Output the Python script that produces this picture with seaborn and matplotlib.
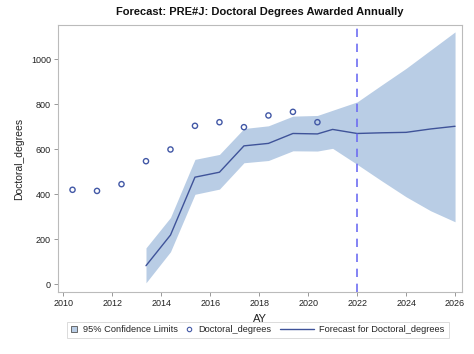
import matplotlib
matplotlib.use("Agg")
import matplotlib.pyplot as plt
import seaborn as sns
import pandas as pd
from matplotlib.patches import Patch
from matplotlib.lines import Line2D
from matplotlib.legend_handler import HandlerLine2D

# Observed data
obs_year = [2010.38, 2011.38, 2012.38, 2013.38, 2014.38, 2015.38, 2016.38,
            2017.38, 2018.38, 2019.38, 2020.38]
obs_val = [420, 415, 445, 547, 599, 704, 720, 698, 750, 766, 720]

# Forecast with 95% confidence limits
fc_year = [2013.38, 2014.38, 2015.38, 2016.38, 2017.38, 2018.38, 2019.38,
           2020.38, 2021.0, 2022.0, 2023.0, 2024.0, 2025.0, 2026.0]
fc_val = [83, 219, 476, 498, 615, 626, 670, 668, 688, 670, 673, 675, 690, 702]
fc_lower = [7, 145, 400, 423, 540, 550, 593, 592, 604, 533, 460, 389, 327, 278]
fc_upper = [162, 297, 555, 577, 692, 704, 747, 750, 773, 810, 885, 959, 1040, 1121]

ref_year = 2022

sns.set_style("white")
plt.rcParams['font.family'] = ['Liberation Sans', 'DejaVu Sans']

fig = plt.figure(figsize=(4.74, 3.54), dpi=100)
ax = fig.add_axes([0.122, 0.175, 0.853, 0.754])

band_col = "#B9CDE5"
line_col = "#3F5399"
mark_col = "#4258A6"

obs_df = pd.DataFrame({"AY": obs_year, "Doctoral_degrees": obs_val})
fc_df = pd.DataFrame({"AY": fc_year, "Forecast": fc_val, "L95": fc_lower, "U95": fc_upper})

ax.fill_between(fc_df["AY"], fc_df["L95"], fc_df["U95"], color=band_col, lw=0, zorder=1)
sns.lineplot(data=fc_df, x="AY", y="Forecast", ax=ax, color=line_col, lw=1.0, zorder=3)
sns.scatterplot(data=obs_df, x="AY", y="Doctoral_degrees", ax=ax, marker="o", s=14,
                facecolor="none", edgecolor=mark_col, linewidth=1.0, zorder=4)
ax.axvline(ref_year, color="#6E6EF2", lw=1.2, ls=(0, (5, 4)), zorder=5)

ax.set_xlim(2009.78, 2026.29)
ax.set_ylim(-34, 1151)
ax.set_xticks(range(2010, 2027, 2))
ax.set_yticks(range(0, 1001, 200))
ax.tick_params(axis="both", labelsize=6.5, length=3, width=0.6, color="#888888",
               direction="out", pad=2, labelcolor="#222222", bottom=True, left=True)
for s in ax.spines.values():
    s.set_color("#BBBBBB")
    s.set_linewidth(0.8)

ax.set_xlabel("AY", fontsize=8, color="#222222", labelpad=4)
ax.set_ylabel("Doctoral_degrees", fontsize=7.5, color="#222222", labelpad=5)
ax.set_title("Forecast: PRE#J: Doctoral Degrees Awarded Annually", fontsize=8,
             fontweight="bold", color="#111111", pad=7)


class LongLineHandler(HandlerLine2D):
    def legend_artist(self, legend, orig_handle, fontsize, handlebox):
        handlebox.width = handlebox.width * 5.6
        return super().legend_artist(legend, orig_handle, fontsize, handlebox)


fc_handle = Line2D([], [], color=line_col, lw=1.0, label="Forecast for Doctoral_degrees")
handles = [
    Patch(facecolor=band_col, edgecolor="#555555", linewidth=0.6, label="95% Confidence Limits"),
    Line2D([], [], marker="o", ls="none", markersize=3.2, markerfacecolor="none",
           markeredgecolor=mark_col, markeredgewidth=0.8, label="Doctoral_degrees"),
    fc_handle,
]
leg = fig.legend(handles=handles, loc="center", bbox_to_anchor=(0.544, 0.068), ncol=3,
                 fontsize=6.7, frameon=True, fancybox=False, edgecolor="#CCCCCC",
                 handlelength=0.65, handleheight=0.65, handletextpad=0.6,
                 columnspacing=0.95, borderpad=0.4,
                 handler_map={fc_handle: LongLineHandler()})
leg.get_frame().set_linewidth(0.6)

fig.savefig("out.png", dpi=100)
